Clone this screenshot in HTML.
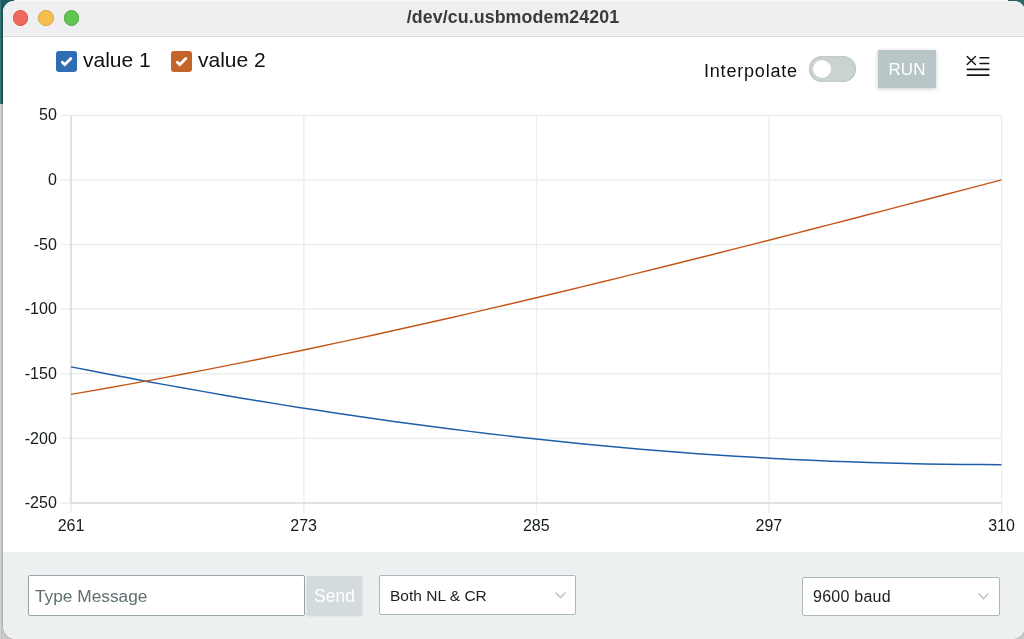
<!DOCTYPE html>
<html><head><meta charset="utf-8">
<style>
*{margin:0;padding:0;box-sizing:border-box;-webkit-font-smoothing:antialiased}
html,body{width:1024px;height:639px;overflow:hidden}
body{position:relative;font-family:"Liberation Sans",sans-serif;background:#c9c9c9}
.bgt{position:absolute;left:0;top:0;width:14px;height:103.5px;background:linear-gradient(to right,#3a7476 0,#3a7476 1px,#1d5c5e 1px,#1d5c5e 14px)}
.bgr{position:absolute;right:0;top:0;width:16px;height:16px;background:#2a6a6c}
.bgtop{position:absolute;left:14px;right:16px;top:0;height:1px;background:#f6f7f7;z-index:2}
.bgl{position:absolute;left:0;top:103.5px;width:2px;bottom:0;background:linear-gradient(to right,#d4d4d4 0,#d4d4d4 1px,#c0c0c0 1px)}
.win{position:absolute;left:3px;top:1px;width:1022px;height:637.5px;border-radius:11px 11px 13px 13px;overflow:hidden;background:#fff;box-shadow:0 0 0 1px rgba(0,0,0,.1)}
.pg{position:absolute;left:-3px;top:-1px;width:1024px;height:639px;will-change:transform}
.title{position:absolute;left:0;top:0;right:0;height:37px;background:linear-gradient(#efeff1 0,#efeff1 34px,#f3f3f5 34px,#f3f3f5 36px);border-bottom:1px solid #dcdcdd}
.title .t{position:absolute;left:0;width:1026px;top:7px;text-align:center;font-weight:bold;font-size:17.8px;letter-spacing:.1px;color:#3b3b3d}
.dot{position:absolute;top:10px;width:15.6px;height:15.6px;border-radius:50%}
.abs{position:absolute}
.cb{position:absolute;top:51px;width:21px;height:20.5px;border-radius:3px}
.lbl{position:absolute;font-size:21px;color:#111;top:48px}
.bottom{position:absolute;left:0;right:0;top:552px;bottom:0;background:#ecf0f1}
</style></head><body>
<div class="bgt"></div><div class="bgr"></div><div class="bgtop"></div><div class="bgl"></div>
<div class="win"><div class="pg">
  <div class="title">
    <div class="dot" style="left:12.7px;top:10px;background:#ee6a5e;border:1px solid #dc4d41"></div>
    <div class="dot" style="left:38.2px;top:10px;background:#f5bf4f;border:1px solid #dca23a"></div>
    <div class="dot" style="left:63.7px;top:10px;background:#62c655;border:1px solid #48aa3c"></div>
    <div class="t">/dev/cu.usbmodem24201</div>
  </div>

  <!-- legend -->
  <div class="cb" style="left:56px;background:#2f6db3"><svg width="21" height="21" viewBox="0 0 21 21"><path d="M6.3 11.2 L8.8 13.6 L14.9 7.6" fill="none" stroke="#fff" stroke-width="2.8" stroke-linecap="round" stroke-linejoin="miter"/></svg></div>
  <div class="lbl" style="left:83px">value 1</div>
  <div class="cb" style="left:171px;background:#c5642a"><svg width="21" height="21" viewBox="0 0 21 21"><path d="M6.3 11.2 L8.8 13.6 L14.9 7.6" fill="none" stroke="#fff" stroke-width="2.8" stroke-linecap="round" stroke-linejoin="miter"/></svg></div>
  <div class="lbl" style="left:198px">value 2</div>

  <div class="abs" style="left:704px;top:61px;font-size:18px;letter-spacing:.8px;color:#111">Interpolate</div>
  <div class="abs" style="left:809px;top:56px;width:47px;height:25.5px;border-radius:13px;background:#cad2d2;box-shadow:inset 0 0 0 1.5px #c3cbcb"></div>
  <div class="abs" style="left:813px;top:59.6px;width:18.2px;height:18.2px;border-radius:50%;background:#fff"></div>
  <div class="abs" style="left:878px;top:50px;width:58px;height:38px;background:#b9c6c7;box-shadow:0 1px 4px rgba(0,0,0,.2);color:#fff;font-size:17px;text-align:center;line-height:40px">RUN</div>
  <svg class="abs" style="left:963px;top:52px" width="30" height="28" viewBox="0 0 30 28">
    <path d="M4.2 4.4 L12.4 12.6 M12.4 4.4 L4.2 12.6" stroke="#151718" stroke-width="1.45" fill="none" stroke-linecap="round"/>
    <path d="M17 5.8 H25.8 M17 11.4 H25.8" stroke="#151718" stroke-width="1.45" fill="none" stroke-linecap="round"/>
    <path d="M4.4 17.3 H25.8 M4.4 23 H25.8" stroke="#151718" stroke-width="1.75" fill="none" stroke-linecap="round"/>
  </svg>

  <!-- chart -->
  <svg class="abs" style="left:0;top:0" width="1024" height="639" viewBox="0 0 1024 639">
    <g stroke="#e9eeee" stroke-width="1.4" fill="none">
      <path d="M61 115.4H1001.5M61 180.0H1001.5M61 244.6H1001.5M61 309.2H1001.5M61 373.8H1001.5M61 438.4H1001.5M61 503H71"/>
      <path d="M303.9 115.4V513M536.5 115.4V513M769.1 115.4V513M1001.6 115.4V513M71 503V513"/>
    </g>
    <g stroke="#d7d9da" stroke-width="1.5" fill="none">
      <path d="M71 115.4V503M71 503H1001.5"/>
    </g>
    <polyline fill="none" stroke="#1f5ea9" stroke-width="1.5" stroke-linejoin="round" points="71.00,366.88 89.99,370.59 108.98,374.25 127.97,377.85 146.96,381.39 165.95,384.87 184.94,388.28 203.93,391.63 222.92,394.92 241.91,398.14 260.90,401.30 279.89,404.38 298.88,407.40 317.87,410.35 336.86,413.24 355.85,416.05 374.84,418.78 393.83,421.45 412.82,424.04 431.81,426.56 450.80,429.00 469.79,431.37 488.78,433.66 507.77,435.87 526.76,438.01 545.74,440.07 564.73,442.04 583.72,443.94 602.71,445.76 621.70,447.50 640.69,449.15 659.68,450.73 678.67,452.22 697.66,453.63 716.65,454.95 735.64,456.20 754.63,457.35 773.62,458.43 792.61,459.42 811.60,460.32 830.59,461.14 849.58,461.87 868.57,462.52 887.56,463.08 906.55,463.56 925.54,463.95 944.53,464.25 963.52,464.47 982.51,464.60 1001.50,464.64"/>
    <polyline fill="none" stroke="#c45617" stroke-width="1.4" stroke-linejoin="round" points="71.00,394.42 89.99,391.13 108.98,387.78 127.97,384.37 146.96,380.89 165.95,377.35 184.94,373.75 203.93,370.09 222.92,366.38 241.91,362.61 260.90,358.78 279.89,354.90 298.88,350.96 317.87,346.97 336.86,342.93 355.85,338.84 374.84,334.71 393.83,330.52 412.82,326.29 431.81,322.02 450.80,317.70 469.79,313.34 488.78,308.94 507.77,304.50 526.76,300.03 545.74,295.51 564.73,290.96 583.72,286.38 602.71,281.76 621.70,277.12 640.69,272.44 659.68,267.73 678.67,263.00 697.66,258.25 716.65,253.47 735.64,248.66 754.63,243.84 773.62,239.00 792.61,234.14 811.60,229.26 830.59,224.36 849.58,219.46 868.57,214.54 887.56,209.61 906.55,204.67 925.54,199.73 944.53,194.78 963.52,189.82 982.51,184.86 1001.50,179.90"/>
    <g font-family="Liberation Sans" font-size="16" fill="#151a1c" text-anchor="end">
      <text x="56.8" y="119.6">50</text>
      <text x="56.8" y="185.1">0</text>
      <text x="56.8" y="249.7">-50</text>
      <text x="56.8" y="314.3">-100</text>
      <text x="56.8" y="378.9">-150</text>
      <text x="56.8" y="443.5">-200</text>
      <text x="56.8" y="508.1">-250</text>
    </g>
    <g font-family="Liberation Sans" font-size="16" fill="#151a1c" text-anchor="middle">
      <text x="71.00" y="531">261</text>
      <text x="303.60" y="531">273</text>
      <text x="536.25" y="531">285</text>
      <text x="768.90" y="531">297</text>
      <text x="1001.50" y="531">310</text>
    </g>
  </svg>

  <div class="bottom"></div>
  <div class="abs" style="left:28px;top:575px;width:277px;height:41px;background:#fff;border:1px solid #97a5a5;border-radius:2px;font-size:17.3px;color:#5f6f70;padding:10px 0 0 6px">Type Message</div>
  <div class="abs" style="left:307px;top:576px;width:55px;height:39px;background:#d3dbdc;box-shadow:0 1px 2px rgba(0,0,0,.12);color:#fff;font-size:17.5px;text-align:center;line-height:41px">Send</div>
  <div class="abs" style="left:379px;top:575px;width:197px;height:40px;background:#fff;border:1px solid #adb8b8;border-radius:2px;font-size:15.5px;color:#1a1f21;padding:11px 0 0 10px">Both NL &amp; CR</div>
  <svg class="abs" style="left:554px;top:590px" width="14" height="10"><path d="M1.5 2.5 L6.5 7.5 L11.5 2.5" stroke="#c3c6c6" stroke-width="1.6" fill="none"/></svg>
  <div class="abs" style="left:802px;top:577px;width:198px;height:39px;background:#fff;border:1px solid #adb8b8;border-radius:2px;font-size:16px;letter-spacing:.25px;color:#1a1f21;padding:10px 0 0 10px">9600 baud</div>
  <svg class="abs" style="left:977px;top:591px" width="14" height="10"><path d="M1.5 2.5 L6.5 7.5 L11.5 2.5" stroke="#c3c6c6" stroke-width="1.6" fill="none"/></svg>
</div></div>
</body></html>
